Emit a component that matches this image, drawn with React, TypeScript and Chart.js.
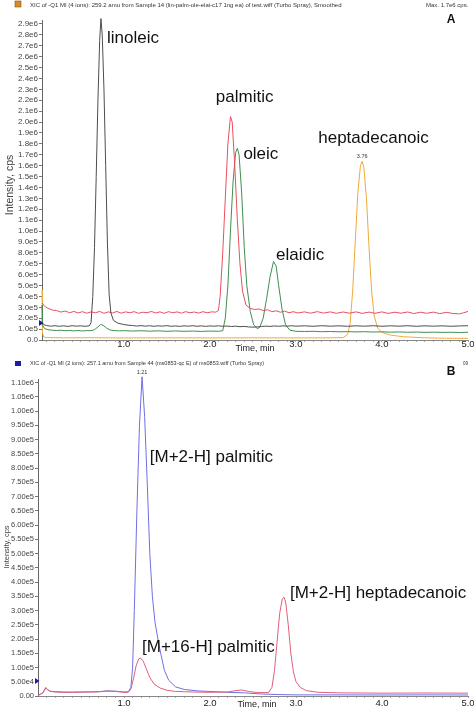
import React, { useEffect, useRef } from "react";
import { Chart, registerables } from "chart.js";
Chart.register(...registerables);

const FONT = '"Liberation Sans", Arial, sans-serif';

// ---------- Panel A data: [time (min), intensity (cps)] ----------
const linoleicA: [number, number][] = [
  [0.05, 1.62e5], [0.07, 1.42e5], [0.1, 1.33e5], [0.15, 1.27e5], [0.2, 1.31e5], [0.25, 1.26e5],
  [0.3, 1.3e5], [0.35, 1.25e5], [0.4, 1.31e5], [0.45, 1.27e5], [0.5, 1.3e5], [0.55, 1.26e5],
  [0.6, 1.3e5], [0.62, 1.6e5], [0.64, 4.0e5], [0.66, 8.5e5], [0.68, 1.5e6], [0.7, 2.2e6],
  [0.72, 2.75e6], [0.735, 2.95e6], [0.75, 2.8e6], [0.77, 2.3e6], [0.79, 1.6e6], [0.81, 9.0e5],
  [0.83, 4.2e5], [0.85, 2.5e5], [0.88, 1.8e5], [0.93, 1.55e5], [1.0, 1.42e5], [1.05, 1.36e5],
  [1.1, 1.33e5], [1.15, 1.28e5], [1.2, 1.32e5], [1.25, 1.27e5], [1.3, 1.31e5], [1.35, 1.26e5],
  [1.4, 1.3e5], [1.45, 1.27e5], [1.5, 1.32e5], [1.55, 1.26e5], [1.6, 1.29e5], [1.65, 1.25e5],
  [1.7, 1.3e5], [1.75, 1.27e5], [1.8, 1.31e5], [1.85, 1.26e5], [1.9, 1.3e5], [1.95, 1.25e5],
  [2.0, 1.29e5], [2.05, 1.27e5], [2.1, 1.3e5], [2.15, 1.26e5], [2.2, 1.28e5], [2.25, 1.24e5],
  [2.3, 1.27e5], [2.35, 1.22e5], [2.4, 1.25e5], [2.45, 1.2e5], [2.5, 1.18e5], [2.55, 1.2e5],
  [2.6, 1.24e5], [2.65, 1.27e5], [2.7, 1.25e5], [2.75, 1.29e5], [2.8, 1.26e5], [2.85, 1.3e5],
  [2.9, 1.27e5], [2.95, 1.31e5], [3.0, 1.27e5], [3.1, 1.3e5], [3.2, 1.26e5], [3.3, 1.31e5],
  [3.4, 1.27e5], [3.5, 1.3e5], [3.6, 1.26e5], [3.7, 1.3e5], [3.8, 1.27e5], [3.9, 1.31e5],
  [4.0, 1.26e5], [4.1, 1.3e5], [4.2, 1.27e5], [4.3, 1.31e5], [4.4, 1.26e5], [4.5, 1.3e5],
  [4.6, 1.27e5], [4.7, 1.3e5], [4.8, 1.26e5], [4.9, 1.29e5], [5.0, 1.31e5],
];

const palmiticA: [number, number][] = [
  [0.05, 3.4e5], [0.08, 3.1e5], [0.12, 2.9e5], [0.17, 2.75e5], [0.22, 2.7e5], [0.27, 2.56e5],
  [0.32, 2.66e5], [0.37, 2.5e5], [0.42, 2.62e5], [0.47, 2.48e5], [0.52, 2.6e5], [0.57, 2.46e5],
  [0.62, 2.58e5], [0.67, 2.5e5], [0.72, 2.62e5], [0.77, 2.45e5], [0.82, 2.58e5], [0.87, 2.48e5],
  [0.92, 2.62e5], [0.97, 2.46e5], [1.02, 2.58e5], [1.07, 2.5e5], [1.12, 2.6e5], [1.17, 2.45e5],
  [1.22, 2.55e5], [1.27, 2.5e5], [1.32, 2.62e5], [1.37, 2.48e5], [1.42, 2.58e5], [1.47, 2.45e5],
  [1.52, 2.6e5], [1.57, 2.5e5], [1.62, 2.58e5], [1.67, 2.46e5], [1.72, 2.6e5], [1.77, 2.5e5],
  [1.82, 2.57e5], [1.87, 2.47e5], [1.92, 2.6e5], [1.97, 2.5e5], [2.02, 2.58e5], [2.07, 2.56e5],
  [2.1, 2.7e5], [2.12, 4.0e5], [2.15, 8.0e5], [2.18, 1.3e6], [2.21, 1.8e6], [2.24, 2.05e6],
  [2.26, 2.0e6], [2.29, 1.6e6], [2.32, 1.1e6], [2.35, 7.0e5], [2.38, 4.5e5], [2.42, 3.2e5],
  [2.47, 2.9e5], [2.52, 2.8e5], [2.57, 2.85e5], [2.62, 2.7e5], [2.67, 2.78e5], [2.72, 2.6e5],
  [2.77, 2.68e5], [2.82, 2.55e5], [2.87, 2.65e5], [2.92, 2.5e5], [2.97, 2.6e5], [3.02, 2.48e5],
  [3.1, 2.58e5], [3.17, 2.46e5], [3.25, 2.6e5], [3.32, 2.47e5], [3.4, 2.58e5], [3.47, 2.45e5],
  [3.55, 2.57e5], [3.62, 2.46e5], [3.7, 2.58e5], [3.77, 2.44e5], [3.85, 2.56e5], [3.92, 2.45e5],
  [4.0, 2.58e5], [4.07, 2.44e5], [4.15, 2.55e5], [4.22, 2.46e5], [4.3, 2.57e5], [4.37, 2.43e5],
  [4.45, 2.55e5], [4.52, 2.45e5], [4.6, 2.56e5], [4.67, 2.42e5], [4.75, 2.54e5], [4.82, 2.44e5],
  [4.9, 2.4e5], [4.95, 2.5e5], [5.0, 2.62e5],
];

const oleicElaidicA: [number, number][] = [
  [0.05, 3.2e5], [0.055, 1.4e5], [0.08, 1.05e5], [0.12, 0.95e5], [0.17, 0.9e5], [0.22, 0.87e5],
  [0.27, 0.9e5], [0.32, 0.85e5], [0.37, 0.88e5], [0.42, 0.84e5], [0.47, 0.87e5], [0.52, 0.83e5],
  [0.57, 0.86e5], [0.62, 0.86e5], [0.66, 0.95e5], [0.7, 1.2e5], [0.73, 1.42e5], [0.76, 1.35e5],
  [0.8, 1.1e5], [0.84, 0.92e5], [0.9, 0.86e5], [0.95, 0.84e5], [1.0, 0.86e5], [1.1, 0.82e5],
  [1.2, 0.85e5], [1.3, 0.81e5], [1.4, 0.84e5], [1.5, 0.8e5], [1.6, 0.83e5], [1.7, 0.8e5],
  [1.8, 0.82e5], [1.9, 0.79e5], [2.0, 0.82e5], [2.1, 0.8e5], [2.15, 0.85e5], [2.18, 2.0e5],
  [2.21, 5.0e5], [2.24, 1.0e6], [2.27, 1.45e6], [2.3, 1.72e6], [2.32, 1.76e6], [2.34, 1.7e6],
  [2.37, 1.35e6], [2.4, 8.5e5], [2.43, 5.0e5], [2.47, 2.6e5], [2.51, 1.4e5], [2.55, 1.05e5],
  [2.58, 1.15e5], [2.62, 2.0e5], [2.66, 3.8e5], [2.7, 5.8e5], [2.74, 7.2e5], [2.77, 6.8e5],
  [2.8, 5.0e5], [2.84, 2.8e5], [2.88, 1.4e5], [2.93, 0.9e5], [3.0, 0.8e5], [3.1, 0.78e5],
  [3.2, 0.8e5], [3.3, 0.76e5], [3.4, 0.78e5], [3.5, 0.75e5], [3.6, 0.77e5], [3.7, 0.74e5],
  [3.8, 0.76e5], [3.9, 0.73e5], [4.0, 0.75e5], [4.1, 0.72e5], [4.2, 0.74e5], [4.3, 0.71e5],
  [4.4, 0.73e5], [4.5, 0.7e5], [4.6, 0.72e5], [4.7, 0.7e5], [4.8, 0.71e5], [4.9, 0.69e5],
  [5.0, 0.71e5],
];

const heptadecanoicA: [number, number][] = [
  [0.05, 4.6e5], [0.056, 0.6e5], [0.07, 0.28e5], [0.1, 0.22e5], [0.3, 0.2e5], [0.6, 0.21e5],
  [1.0, 0.19e5], [1.5, 0.2e5], [2.0, 0.19e5], [2.5, 0.2e5], [3.0, 0.19e5], [3.4, 0.2e5],
  [3.55, 0.22e5], [3.6, 0.5e5], [3.63, 1.5e5], [3.66, 4.5e5], [3.69, 9.0e5], [3.72, 1.35e6],
  [3.75, 1.6e6], [3.77, 1.64e6], [3.79, 1.58e6], [3.82, 1.3e6], [3.85, 8.5e5], [3.88, 4.5e5],
  [3.91, 2.2e5], [3.95, 1.1e5], [4.0, 0.7e5], [4.1, 0.45e5], [4.25, 0.3e5], [4.5, 0.2e5],
  [4.75, 0.16e5], [5.0, 0.15e5],
];

// ---------- Panel B data ----------
const m2PalmiticB: [number, number][] = [
  [0.0, 0.2e4], [0.03, 0.6e4], [0.06, 1.2e4], [0.09, 2.8e4], [0.11, 2.2e4], [0.14, 1.7e4],
  [0.2, 1.5e4], [0.3, 1.4e4], [0.4, 1.35e4], [0.5, 1.4e4], [0.6, 1.45e4], [0.7, 1.5e4],
  [0.8, 1.8e4], [0.9, 1.7e4], [1.0, 1.4e4], [1.05, 1.5e4], [1.08, 3.0e4], [1.1, 1.0e5],
  [1.12, 3.0e5], [1.15, 6.5e5], [1.18, 9.5e5], [1.21, 1.12e6], [1.24, 9.8e5], [1.27, 7.5e5],
  [1.3, 5.0e5], [1.33, 3.5e5], [1.36, 2.6e5], [1.4, 1.9e5], [1.43, 1.45e5], [1.47, 9.0e4],
  [1.52, 5.5e4], [1.6, 3.2e4], [1.7, 2.3e4], [1.85, 1.8e4], [2.0, 1.6e4], [2.2, 1.3e4],
  [2.4, 1.1e4], [2.6, 0.7e4], [2.8, 0.5e4], [3.0, 0.4e4], [3.5, 0.4e4], [4.0, 0.35e4],
  [4.5, 0.4e4], [5.0, 0.35e4],
];

const m16PalmiticHeptaB: [number, number][] = [
  [0.0, 0.2e4], [0.03, 0.7e4], [0.06, 1.3e4], [0.09, 3.0e4], [0.11, 2.3e4], [0.14, 1.6e4],
  [0.2, 1.4e4], [0.3, 1.3e4], [0.4, 1.3e4], [0.5, 1.35e4], [0.6, 1.4e4], [0.7, 1.45e4],
  [0.8, 1.7e4], [0.9, 1.6e4], [1.0, 1.3e4], [1.05, 1.3e4], [1.08, 2.5e4], [1.11, 6.0e4],
  [1.14, 1.05e5], [1.17, 1.3e5], [1.19, 1.33e5], [1.22, 1.25e5], [1.26, 9.5e4], [1.3, 6.5e4],
  [1.35, 4.2e4], [1.42, 2.8e4], [1.5, 2.0e4], [1.6, 1.6e4], [1.8, 1.4e4], [2.0, 1.3e4],
  [2.2, 1.4e4], [2.3, 1.9e4], [2.37, 2.1e4], [2.45, 1.6e4], [2.55, 1.2e4], [2.68, 1.2e4],
  [2.72, 3.0e4], [2.75, 9.0e4], [2.78, 1.9e5], [2.81, 2.9e5], [2.84, 3.4e5], [2.86, 3.47e5],
  [2.88, 3.3e5], [2.91, 2.5e5], [2.94, 1.5e5], [2.97, 8.5e4], [3.0, 5.0e4], [3.05, 3.0e4],
  [3.12, 1.9e4], [3.25, 1.3e4], [3.5, 1.1e4], [4.0, 1.0e4], [4.5, 1.05e4], [5.0, 1.0e4],
];

// ---------- Ticks & labels ----------
const xTickValues = [1, 2, 3, 4, 5];
const xTickLabels = ["1.0", "2.0", "3.0", "4.0", "5.0"];
const yTicksA = [
  0, 1e5, 2e5, 3e5, 4e5, 5e5, 6e5, 7e5, 8e5, 9e5, 1.0e6, 1.1e6, 1.2e6, 1.3e6, 1.4e6, 1.5e6,
  1.6e6, 1.7e6, 1.8e6, 1.9e6, 2.0e6, 2.1e6, 2.2e6, 2.3e6, 2.4e6, 2.5e6, 2.6e6, 2.7e6, 2.8e6, 2.9e6,
];
const yTicksB = [
  0, 5e4, 1e5, 1.5e5, 2e5, 2.5e5, 3e5, 3.5e5, 4e5, 4.5e5, 5e5, 5.5e5, 6e5, 6.5e5, 7e5, 7.5e5,
  8e5, 8.5e5, 9e5, 9.5e5, 1.0e6, 1.05e6, 1.1e6,
];

const headerA =
  "XIC of -Q1 MI (4 ions): 259.2 amu from Sample 14 (lin-palm-ole-elai-c17 1ng ea) of test.wiff (Turbo Spray), Smoothed";
const headerAMax = "Max. 1.7e6 cps.";
const headerB =
  "XIC of -Q1 MI (2 ions): 257.1 amu from Sample 44 (ms0853-qc E) of ms0853.wiff (Turbo Spray)";

const annotationsA = [
  { text: "linoleic", t: 0.806, v: 2.77e6 },
  { text: "palmitic", t: 2.07, v: 2.23e6 },
  { text: "oleic", t: 2.39, v: 1.7e6 },
  { text: "elaidic", t: 2.77, v: 0.78e6 },
  { text: "heptadecanoic", t: 3.26, v: 1.85e6 },
];
const annotationsB = [
  { text: "[M+2-H] palmitic", t: 1.3, v: 8.39e5 },
  { text: "[M+16-H] palmitic", t: 1.21, v: 1.72e5 },
  { text: "[M+2-H] heptadecanoic", t: 2.93, v: 3.61e5 },
];
const peakTagA = { text: "3.76", t: 3.77, v: 1.68e6 };
const peakTagB = { text: "1.21", t: 1.21, v: 1.135e6 };

const fmtA = (v: number) => (v === 0 ? "0.0" : v.toExponential(1).replace("e+", "e"));
const fmtB = (v: number) => (v === 0 ? "0.00" : v.toExponential(2).replace("e+", "e"));

const minorTicks: number[] = [];
for (let i = 1; i <= 50; i++) minorTicks.push(i / 10);

function toPts(arr: [number, number][]) {
  return arr.map(([x, y]) => ({ x, y }));
}

function makePlugin(panel: "A" | "B") {
  return {
    id: "texts" + panel,
    afterDraw(chart: any) {
      const { ctx, chartArea } = chart;
      const xs = chart.scales.x;
      const ys = chart.scales.y;
      ctx.save();
      ctx.textBaseline = "middle";
      // header
      if (panel === "A") {
        ctx.fillStyle = "#d98a2b";
        ctx.fillRect(15, 1, 6, 6);
        ctx.strokeStyle = "#8a5010";
        ctx.lineWidth = 0.6;
        ctx.strokeRect(15, 1, 6, 6);
        ctx.fillStyle = "#333";
        ctx.font = `6px ${FONT}`;
        ctx.textAlign = "left";
        ctx.fillText(headerA, 30, 5, 340);
        ctx.fillText(headerAMax, 426, 5);
      } else {
        ctx.fillStyle = "#1c1ca8";
        ctx.fillRect(15, 5, 6, 5);
        ctx.fillStyle = "#333";
        ctx.font = `6px ${FONT}`;
        ctx.textAlign = "left";
        ctx.fillText(headerB, 30, 7.5, 234);
        ctx.font = `4.5px ${FONT}`;
        ctx.fillText("09", 463, 7.5);
      }
      // panel letter
      ctx.fillStyle = "#111";
      ctx.font = `bold 12px ${FONT}`;
      ctx.textAlign = "center";
      ctx.fillText(panel, 451, panel === "A" ? 20 : 16);

      // x tick labels
      ctx.fillStyle = "#222";
      ctx.font = `9.5px ${FONT}`;
      ctx.textAlign = "center";
      const off = panel === "A" ? 4.5 : 7.5;
      xTickValues.forEach((v, i) => {
        ctx.fillText(xTickLabels[i], xs.getPixelForValue(v), chartArea.bottom + off);
      });
      ctx.font = `9px ${FONT}`;
      ctx.fillText("Time, min", panel === "A" ? 255 : 257, 349);

      // y title
      ctx.save();
      ctx.fillStyle = "#444";
      if (panel === "A") {
        ctx.translate(10, 185);
        ctx.font = `10.5px ${FONT}`;
      } else {
        ctx.translate(7, 191);
        ctx.font = `7.5px ${FONT}`;
      }
      ctx.rotate(-Math.PI / 2);
      ctx.textAlign = "center";
      ctx.fillText("Intensity, cps", 0, 0);
      ctx.restore();

      // arrow marker on y axis
      ctx.fillStyle = "#1c1ca8";
      const ax = chartArea.left;
      const ay = panel === "A" ? 323 : 325;
      ctx.beginPath();
      ctx.moveTo(ax - 3, ay - 3);
      ctx.lineTo(ax + 1.5, ay);
      ctx.lineTo(ax - 3, ay + 3);
      ctx.closePath();
      ctx.fill();

      // annotations
      ctx.fillStyle = "#111";
      ctx.font = `17px ${FONT}`;
      ctx.textAlign = "left";
      const anns = panel === "A" ? annotationsA : annotationsB;
      anns.forEach((a) => {
        ctx.fillText(a.text, xs.getPixelForValue(a.t), ys.getPixelForValue(a.v));
      });
      // peak tag
      const tag = panel === "A" ? peakTagA : peakTagB;
      ctx.font = `5.5px ${FONT}`;
      ctx.textAlign = "center";
      ctx.fillStyle = "#333";
      ctx.fillText(tag.text, xs.getPixelForValue(tag.t), ys.getPixelForValue(tag.v));
      ctx.restore();
    },
  };
}

function baseOptions(panel: "A" | "B") {
  const isA = panel === "A";
  const yMax = isA ? 2.93e6 : 1.11e6;
  const topPad = isA ? 20.73 : 23.65;
  const yTicks = isA ? yTicksA : yTicksB;
  return {
    animation: false,
    responsive: false,
    devicePixelRatio: 1,
    layout: { padding: { left: 0, right: 6, top: topPad, bottom: 0 } },
    plugins: { legend: { display: false }, tooltip: { enabled: false } },
    elements: { point: { radius: 0 }, line: { borderWidth: 1, tension: 0 } },
    scales: {
      x: {
        type: "linear",
        min: isA ? 0.05 : 0.0,
        max: 5.0,
        afterFit: (s: any) => {
          s.height = isA ? 16 : 15;
        },
        afterBuildTicks: (s: any) => {
          s.ticks = minorTicks.map((v) => ({ value: v }));
        },
        ticks: { display: false, autoSkip: false },
        grid: { drawOnChartArea: false, drawTicks: true, tickLength: 2, color: "#aaa" },
        border: { display: true, color: "#888", width: 1 },
      },
      y: {
        type: "linear",
        min: 0,
        max: yMax,
        afterFit: (s: any) => {
          s.width = isA ? 42 : 38;
        },
        afterBuildTicks: (s: any) => {
          s.ticks = yTicks.map((v) => ({ value: v }));
        },
        ticks: {
          autoSkip: false,
          font: { size: isA ? 8 : 7.5, family: FONT },
          color: "#444",
          padding: 1,
          callback: (v: number) => (isA ? fmtA(v) : fmtB(v)),
        },
        grid: { drawOnChartArea: false, drawTicks: true, tickLength: 3, color: "#777" },
        border: { display: true, color: "#666", width: 1 },
      },
    },
  };
}

export default function App() {
  const refA = useRef<HTMLCanvasElement>(null);
  const refB = useRef<HTMLCanvasElement>(null);

  useEffect(() => {
    const chartA = new Chart(refA.current as HTMLCanvasElement, {
      type: "line",
      data: {
        datasets: [
          { label: "linoleic", data: toPts(linoleicA), borderColor: "#4d4d4d", clip: false },
          { label: "palmitic", data: toPts(palmiticA), borderColor: "#e8505e", clip: false },
          { label: "oleic / elaidic", data: toPts(oleicElaidicA), borderColor: "#3f8f4f", clip: false },
          { label: "heptadecanoic", data: toPts(heptadecanoicA), borderColor: "#f2a93b", clip: false },
        ],
      },
      options: baseOptions("A") as any,
      plugins: [makePlugin("A")],
    });
    const chartB = new Chart(refB.current as HTMLCanvasElement, {
      type: "line",
      data: {
        datasets: [
          { label: "[M+16-H] palmitic / [M+2-H] heptadecanoic", data: toPts(m16PalmiticHeptaB), borderColor: "#e0607a", clip: false },
          { label: "[M+2-H] palmitic", data: toPts(m2PalmiticB), borderColor: "#6f6fe6", clip: false },
        ],
      },
      options: baseOptions("B") as any,
      plugins: [makePlugin("B")],
    });
    return () => {
      chartA.destroy();
      chartB.destroy();
    };
  }, []);

  return (
    <div style={{ position: "absolute", left: 0, top: 0, width: 474, height: 711, background: "#fff" }}>
      <canvas ref={refA} width={474} height={356} style={{ position: "absolute", left: 0, top: 0 }} />
      <canvas ref={refB} width={474} height={355} style={{ position: "absolute", left: 0, top: 356 }} />
    </div>
  );
}
